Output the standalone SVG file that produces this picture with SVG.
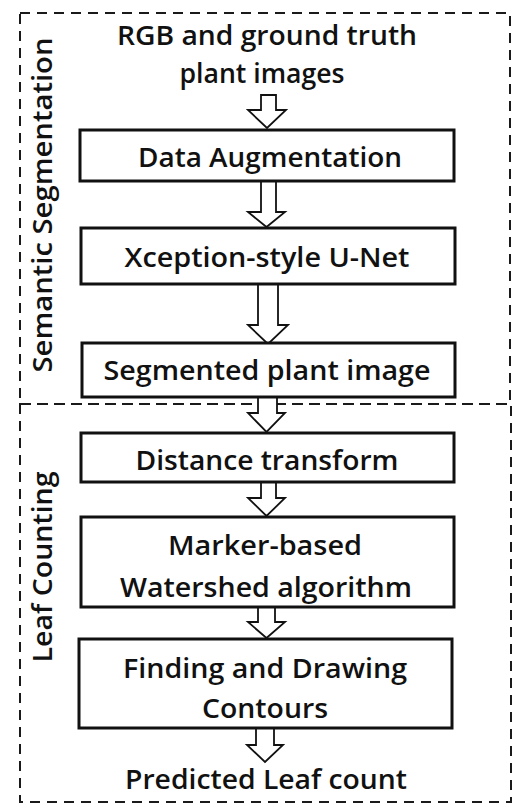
<svg xmlns="http://www.w3.org/2000/svg" width="525" height="811" viewBox="0 0 525 811">
<style>
.frame{fill:none;stroke:#1a1a1a;stroke-width:2;stroke-dasharray:10 7}
.box{fill:#fff;stroke:#111;stroke-width:3}
.arrow{fill:#fff;stroke:#111;stroke-width:1.8;stroke-linejoin:miter}
text{font-family:"Open Sans","Liberation Sans",sans-serif;font-weight:600;font-size:27px;fill:#111;text-anchor:middle}
</style>
<rect width="525" height="811" fill="#fff"/>
<g id="frames">
<rect class="frame" x="20" y="13" width="490" height="391"/>
<rect class="frame" x="20" y="404" width="491" height="398"/>
<text x="52" y="205" transform="rotate(-90 52 205)" textLength="335" lengthAdjust="spacingAndGlyphs">Semantic Segmentation</text>
<text x="52" y="567" transform="rotate(-90 52 567)" textLength="191" lengthAdjust="spacingAndGlyphs">Leaf Counting</text>
</g>
<g id="connectors">
<path class="arrow" d="M261,95 H276 V110 H286 L267,128 L248,110 H261 Z"/>
<path class="arrow" d="M261,181 H276 V212 H285 L266.5,227 L248,212 H261 Z"/>
<path class="arrow" d="M258,284 H278 V325 H288 L268,344 L248,325 H258 Z"/>
<path class="arrow" d="M258,397 H277 V413 H285 L266.5,432 L248,413 H258 Z"/>
<path class="arrow" d="M261,482 H276 V498 H285 L266.5,516 L248,498 H261 Z"/>
<path class="arrow" d="M258,607 H275 V622 H285 L266.5,638 L248,622 H258 Z"/>
<path class="arrow" d="M256,728 H274 V745 H283 L265,762 L247,745 H256 Z"/>
</g>
<g id="input">
<text x="267" y="45" textLength="300" lengthAdjust="spacingAndGlyphs">RGB and ground truth</text>
<text x="262" y="83" textLength="165" lengthAdjust="spacingAndGlyphs">plant images</text>
</g>
<g id="data-augmentation">
<rect class="box" x="80" y="130" width="374" height="51"/>
<text x="270" y="167" textLength="264" lengthAdjust="spacingAndGlyphs">Data Augmentation</text>
</g>
<g id="xception-unet">
<rect class="box" x="81" y="228" width="374" height="56"/>
<text x="267" y="267" textLength="285" lengthAdjust="spacingAndGlyphs">Xception-style U-Net</text>
</g>
<g id="segmented">
<rect class="box" x="82" y="343" width="373" height="54"/>
<text x="267" y="380" textLength="327" lengthAdjust="spacingAndGlyphs">Segmented plant image</text>
</g>
<g id="distance-transform">
<rect class="box" x="81" y="433" width="373" height="49"/>
<text x="267" y="470" textLength="263" lengthAdjust="spacingAndGlyphs">Distance transform</text>
</g>
<g id="watershed">
<rect class="box" x="81" y="517" width="373" height="90"/>
<text x="265" y="555" textLength="194" lengthAdjust="spacingAndGlyphs">Marker-based</text>
<text x="266" y="597" textLength="292" lengthAdjust="spacingAndGlyphs">Watershed algorithm</text>
</g>
<g id="contours">
<rect class="box" x="79" y="639" width="373" height="89"/>
<text x="265" y="678" textLength="284" lengthAdjust="spacingAndGlyphs">Finding and Drawing</text>
<text x="265" y="718" textLength="126" lengthAdjust="spacingAndGlyphs">Contours</text>
</g>
<g id="output">
<text x="266" y="789" textLength="282" lengthAdjust="spacingAndGlyphs">Predicted Leaf count</text>
</g>
</svg>
